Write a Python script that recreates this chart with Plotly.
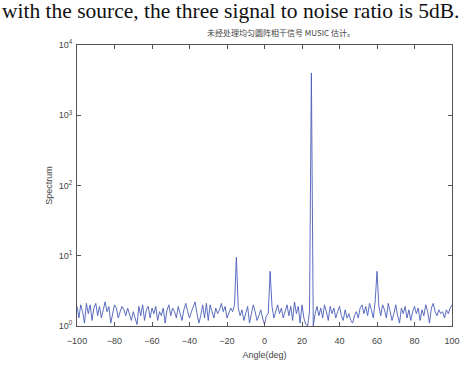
import plotly.graph_objects as go

angles = list(range(-100, 101))
spectrum = [
    1.9, 1.3, 2.0, 1.6, 1.1, 2.1, 1.5, 2.0, 1.2, 1.8,
    2.1, 1.4, 1.9, 1.3, 1.7, 2.2, 1.6, 1.9, 1.1, 1.5,
    2.0, 1.8, 1.3, 1.6, 1.9, 1.7, 1.4, 1.8, 1.5, 1.2,
    1.6, 1.3, 1.05, 1.9, 1.4, 2.0, 1.2, 1.7, 1.9, 1.3,
    1.8, 1.5, 1.9, 1.2, 1.6, 1.4, 1.8, 1.1, 1.7, 2.0,
    1.4, 1.8, 1.6, 1.3, 1.9, 1.5, 1.2, 1.7, 2.1, 1.6,
    1.3, 1.6, 1.9, 2.2, 1.5, 1.1, 1.4, 2.0, 1.3, 2.1,
    1.2, 2.0, 1.6, 1.3, 1.8, 1.5, 1.7, 2.1, 1.6, 1.9,
    1.3, 1.5, 1.8, 1.6, 2.0, 9.5, 1.8, 1.4, 1.7, 1.2,
    1.6, 1.9, 1.1, 1.5, 2.0, 1.6, 1.2, 1.4, 1.7, 1.3,
    1.05, 1.4, 1.5, 6.0, 1.9, 1.3, 1.6, 2.0, 1.5, 1.8,
    1.3, 1.7, 2.0, 1.4, 1.9, 1.2, 2.2, 1.5, 1.9, 1.1,
    2.0, 1.3, 1.05, 1.0, 1.6, 4000, 1.0, 1.5, 1.9, 1.4,
    1.8, 1.3, 2.0, 1.6, 1.2, 1.9, 1.5, 1.8, 1.3, 1.6,
    1.9, 1.4, 1.2, 1.7, 1.3, 1.5, 1.2, 1.1, 1.4, 1.6,
    1.3, 1.8, 2.0, 1.5, 1.9, 1.4, 2.1, 1.7, 1.3, 2.2,
    6.0, 1.9, 1.4, 2.0, 1.7, 1.3, 2.1, 1.6, 1.2, 1.5,
    2.0, 1.4, 1.1, 1.8, 1.5, 1.9, 1.3, 1.7, 1.2, 1.6,
    1.9, 1.5, 1.8, 1.2, 1.7, 1.4, 2.0, 1.6, 1.1, 1.8,
    2.1, 1.6, 1.4, 1.7, 1.5, 1.6, 1.3, 1.7, 1.5, 1.8, 2.0,
]
x_ticks = [-100, -80, -60, -40, -20, 0, 20, 40, 60, 80, 100]
y_ticks = [1, 10, 100, 1000, 10000]
y_tick_text = ["10<sup>0</sup>", "10<sup>1</sup>", "10<sup>2</sup>", "10<sup>3</sup>", "10<sup>4</sup>"]
title = "未经处理均匀圆阵相干信号 MUSIC 估计。"
caption = "with the source, the three signal to noise ratio is 5dB."

L, R, T, B = 77, 22, 45, 39
W, H = 474, 365
pw, ph = W - L - R, H - T - B

fig = go.Figure()
fig.add_trace(go.Scatter(x=angles, y=spectrum, mode="lines",
                         line=dict(color="#4a5cba", width=0.9), showlegend=False))

tickfont = dict(family="Liberation Sans Narrow, Arial", size=9, color="#444444")
axis_common = dict(showline=True, linecolor="#555555", linewidth=1, mirror="ticks",
                   ticks="inside", ticklen=4, tickcolor="#555555", showgrid=False,
                   zeroline=False, tickfont=tickfont)

fig.update_layout(
    width=W, height=H,
    margin=dict(l=L, r=R, t=T, b=B, autoexpand=False),
    paper_bgcolor="white", plot_bgcolor="white",
    xaxis=dict(range=[-100, 100], tickvals=x_ticks, ticklabelstandoff=6,
               title=dict(text="Angle(deg)", font=dict(family="Liberation Sans", size=9, color="#444444"), standoff=6),
               automargin=False, **axis_common),
    yaxis=dict(type="log", range=[0, 4], tickvals=y_ticks, ticktext=y_tick_text, ticklabelstandoff=2,
               title=dict(text="Spectrum", font=dict(family="Liberation Sans", size=9, color="#444444"), standoff=4),
               automargin=False, **axis_common),
    annotations=[
        dict(text=title, xref="paper", yref="paper", x=(281 - L) / pw, y=(H - B - 33) / ph,
             xanchor="center", yanchor="middle", showarrow=False,
             font=dict(family="Noto Sans CJK SC", size=8, color="#444444")),
        dict(text=caption, xref="paper", yref="paper", x=(0 - L) / pw, y=(H - B + 3) / ph,
             xanchor="left", yanchor="top", showarrow=False,
             font=dict(family="Liberation Serif", size=21.5, color="#111111")),
    ],
)

fig.write_html("out.html")
